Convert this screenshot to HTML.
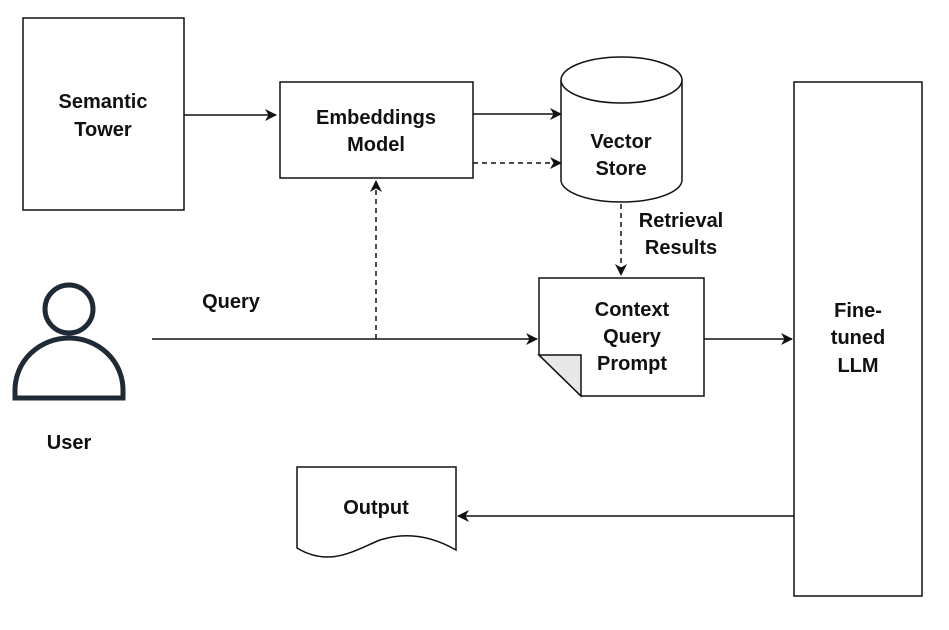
<!DOCTYPE html>
<html><head><style>
body{margin:0;background:#fff;}
svg{display:block;font-family:"Liberation Sans",Arial,sans-serif;font-weight:bold;font-size:20px;}
</style></head><body>
<svg width="949" height="630" viewBox="0 0 949 630" xmlns="http://www.w3.org/2000/svg">
<defs>
<marker id="a" markerWidth="12" markerHeight="12" refX="11" refY="6" orient="auto" markerUnits="userSpaceOnUse">
<path d="M0,0 L12,6 L0,12 L3.5,6 Z" fill="#111"/>
</marker>
</defs>
<g fill="#fff" stroke="#111" stroke-width="1.5">
<rect x="23" y="18" width="161" height="192"/>
<rect x="280" y="82" width="193" height="96"/>
<path d="M561,80 L561,180 A60.5,22 0 0 0 682,180 L682,80"/>
<ellipse cx="621.5" cy="80" rx="60.5" ry="23"/>
<path d="M539,278 L704,278 L704,396 L581,396 L539,355 Z"/>
<path d="M539,355 L581,355 L581,396 Z" fill="#e8e8e8"/>
<rect x="794" y="82" width="128" height="514"/>
<path d="M297,467 L456,467 L456,550 C430,535 405,532 380,540 C355,550 330,568 297,548 Z"/>
</g>
<g stroke="#111" stroke-width="1.5" fill="none">
<line x1="184" y1="115" x2="276" y2="115" marker-end="url(#a)"/>
<line x1="473" y1="114" x2="561" y2="114" marker-end="url(#a)"/>
<line x1="473" y1="163" x2="561" y2="163" stroke-dasharray="5,4" marker-end="url(#a)"/>
<line x1="376" y1="339" x2="376" y2="181" stroke-dasharray="5,4" marker-end="url(#a)"/>
<line x1="152" y1="339" x2="537" y2="339" marker-end="url(#a)"/>
<line x1="621" y1="204" x2="621" y2="275" stroke-dasharray="5,4" marker-end="url(#a)"/>
<line x1="704" y1="339" x2="792" y2="339" marker-end="url(#a)"/>
<line x1="794" y1="516" x2="458" y2="516" marker-end="url(#a)"/>
</g>
<g fill="none" stroke="#1e2a35" stroke-width="5">
<circle cx="69" cy="309" r="24"/>
<path d="M15,398 L15,390 A54,52 0 0 1 123,390 L123,398 Z"/>
</g>
<g fill="#111" text-anchor="middle">
<text x="103" y="108">Semantic</text><text x="103" y="136">Tower</text>
<text x="376" y="124">Embeddings</text><text x="376" y="151">Model</text>
<text x="621" y="148">Vector</text><text x="621" y="175">Store</text>
<text x="681" y="227">Retrieval</text><text x="681" y="254">Results</text>
<text x="632" y="316">Context</text><text x="632" y="343">Query</text><text x="632" y="370">Prompt</text>
<text x="858" y="317">Fine-</text><text x="858" y="344">tuned</text><text x="858" y="372">LLM</text>
<text x="231" y="308">Query</text>
<text x="69" y="449">User</text>
<text x="376" y="514">Output</text>
</g>
</svg>
</body></html>
